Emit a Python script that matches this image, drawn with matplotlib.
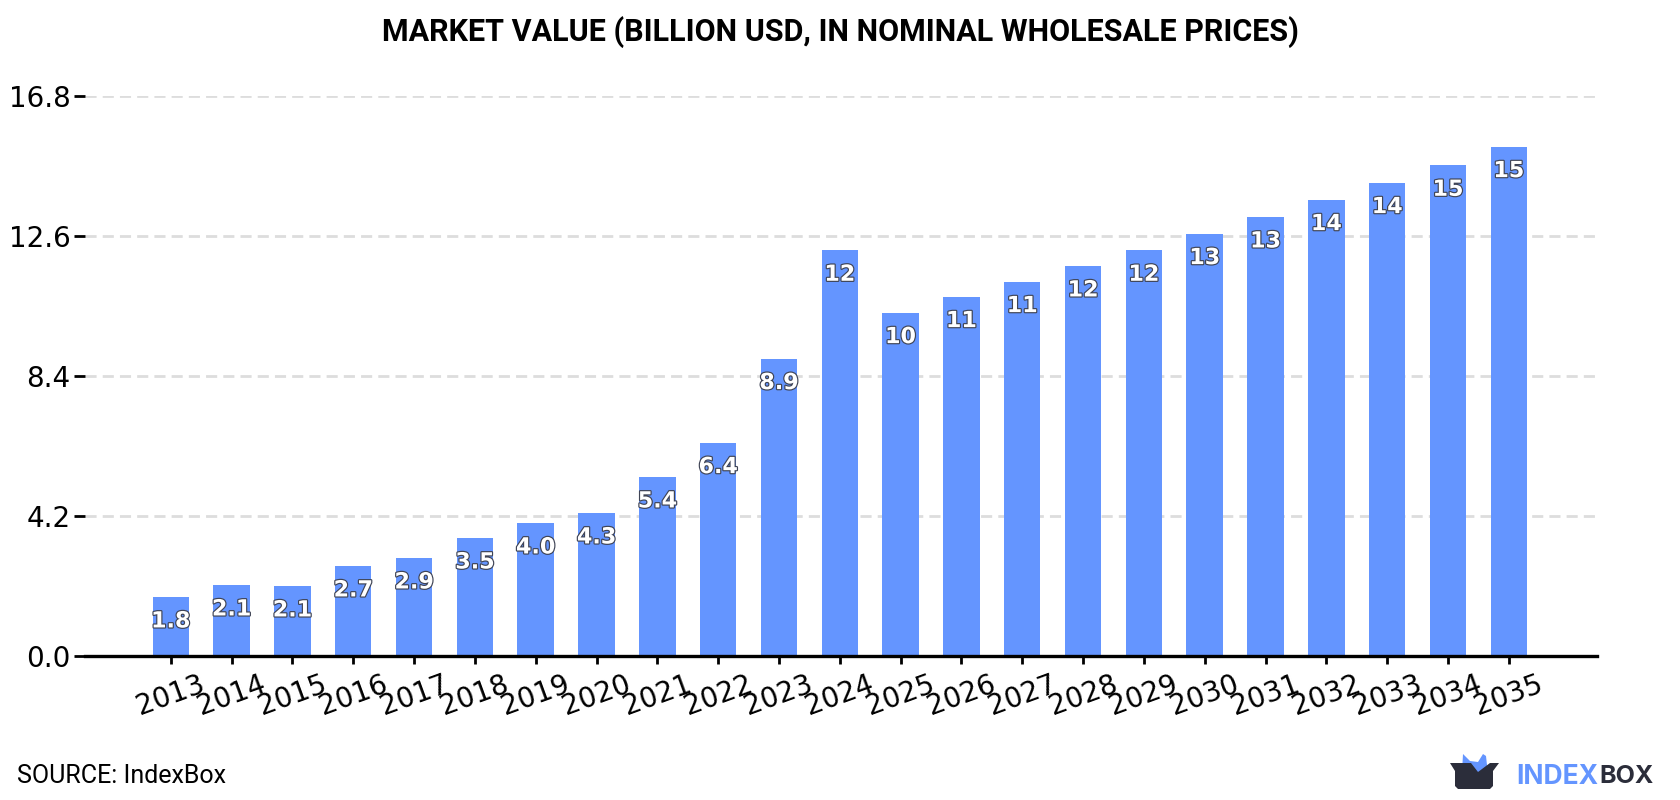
import matplotlib
matplotlib.use('Agg')
import matplotlib.pyplot as plt
import matplotlib.patheffects as pe
from matplotlib.patches import Polygon

years = [str(y) for y in range(2013, 2036)]
values = [1.77, 2.13, 2.10, 2.70, 2.94, 3.54, 3.99, 4.29, 5.37, 6.40, 8.92, 12.17,
          10.3, 10.78, 11.23, 11.7, 12.17, 12.67, 13.17, 13.69, 14.2, 14.72, 15.28]
labels = ['1.8', '2.1', '2.1', '2.7', '2.9', '3.5', '4.0', '4.3', '5.4', '6.4', '8.9', '12',
          '10', '11', '11', '12', '12', '13', '13', '14', '14', '15', '15']
yticks = [0.0, 4.2, 8.4, 12.6, 16.8]

BLUE = '#6495ff'
DARK = '#2b2d3a'

fig = plt.figure(figsize=(16.8, 8), dpi=100)
ax = fig.add_axes([85 / 1680, 1 - 656 / 800, (1597 - 85) / 1680, 560 / 800])

xpos = list(range(len(years)))
ax.bar(xpos, values, width=0.6, color=BLUE, zorder=3)
ax.set_xlim(-1.41, 23.45)
ax.set_ylim(0, 16.8)

for x, v, lab in zip(xpos, values, labels):
    ax.annotate(lab, (x, v), xytext=(0, -17.6), textcoords='offset points',
                ha='center', va='center', fontsize=16, fontweight='bold',
                color='white', zorder=4, clip_on=False,
                path_effects=[pe.withStroke(linewidth=1.7, foreground='#3f4455')])

ax.set_yticks(yticks)
ax.set_yticklabels([f'{t:.1f}' for t in yticks], fontsize=20)
ax.set_xticks(xpos)
ax.set_xticklabels(years, fontsize=20, rotation=20)
ax.tick_params(axis='y', length=8, width=2, pad=2.5)
ax.tick_params(axis='x', length=6, width=2, pad=4)
ax.yaxis.grid(True, color='#dddddd', linewidth=2, linestyle=(0, (4, 2.2)), zorder=0)
for name in ('top', 'right', 'left'):
    ax.spines[name].set_visible(False)
ax.spines['bottom'].set_linewidth(2.4)
ax.spines['bottom'].set_zorder(5)

fig.text(0.5, 1 - 32 / 800, 'MARKET VALUE (BILLION USD, IN NOMINAL WHOLESALE PRICES)',
         ha='center', va='center', family='Roboto', fontweight='bold', fontsize=22)
fig.text(17 / 1680, 1 - 776 / 800, 'SOURCE: IndexBox', ha='left', va='center',
         family='Roboto', fontsize=18)

# logo in pixel coordinates
logo = fig.add_axes([0, 0, 1, 1], zorder=10)
logo.set_xlim(0, 1680)
logo.set_ylim(800, 0)
logo.axis('off')
logo.add_patch(Polygon([(1462, 772), (1463, 754), (1470, 761), (1478, 762), (1483, 754),
                        (1486, 756), (1487, 765), (1487, 772)], color=BLUE, lw=0))
logo.add_patch(Polygon([(1450, 763), (1471, 763), (1478, 772), (1490, 763), (1499, 763),
                        (1493, 771), (1493, 786), (1490, 789), (1458, 789), (1455, 786),
                        (1455, 771)], color=DARK, lw=0))
logo.text(1516, 774, 'INDEX', color=BLUE, family='Inter', fontweight='bold', fontsize=19,
          ha='left', va='center_baseline')
logo.text(1599, 774, 'BOX', color=DARK, family='Inter', fontweight='bold', fontsize=18,
          ha='left', va='center_baseline')

fig.savefig('out.png', dpi=100)
